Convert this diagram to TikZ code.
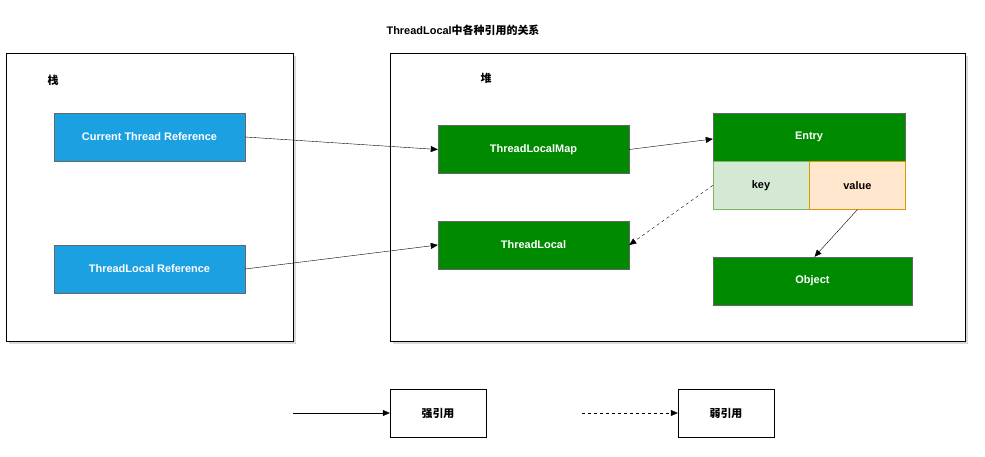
\documentclass[tikz,border=0pt]{standalone}
\usepackage{fontspec}
\setmainfont{Liberation Sans}
\newfontfamily\cjk{Noto Sans CJK SC}
\usetikzlibrary{positioning, calc, arrows.meta}
\definecolor{refblue}{HTML}{1BA1E2}
\definecolor{heapgreen}{HTML}{008A00}
\definecolor{keyfill}{HTML}{D5E8D4}
\definecolor{keyline}{HTML}{82B366}
\definecolor{valfill}{HTML}{FFE6CC}
\definecolor{valline}{HTML}{D79B00}
\tikzset{
	area/.style={draw=black, fill=white},
	ref/.style={rectangle, draw=black!60, fill=refblue, text=white, minimum width=191bp, minimum height=48bp, font=\fontsize{11}{13}\selectfont\bfseries, inner sep=0pt},
	obj/.style={rectangle, draw=black!60, fill=heapgreen, text=white, minimum width=191bp, minimum height=48bp, font=\fontsize{11}{13}\selectfont\bfseries, inner sep=0pt},
	cell/.style={rectangle, minimum width=96bp, minimum height=48bp, font=\fontsize{11}{13}\selectfont\bfseries, inner sep=0pt},
	legend/.style={rectangle, draw=black, fill=white, minimum width=96bp, minimum height=48bp, font=\fontsize{11}{13}\selectfont\bfseries\cjk, inner sep=0pt},
	strong/.style={-{Triangle[length=7bp,width=6bp]}, black},
	weak/.style={strong, dashed}
}
\begin{document}
\begin{tikzpicture}[x=1bp, y=-1bp]
	\useasboundingbox (0,0) rectangle (985,457);
	\fill[white] (0,0) rectangle (985,457);
	
	\node (title) at (463,30) {\fontsize{11}{13}\selectfont\bfseries ThreadLocal{\cjk 中各种引用的关系}};
	
	% stack and heap areas
	\fill[black!15] (9,56) rectangle (296,344);
	\draw[area] (6,53) rectangle (293,341);
	\node (stack) at (53,80) {\fontsize{11}{13}\selectfont\bfseries\cjk 栈};
	\fill[black!15] (393,56) rectangle (968,344);
	\draw[area] (390,53) rectangle (965,341);
	\node (heap) at (486,78) {\fontsize{11}{13}\selectfont\bfseries\cjk 堆};
	
	\node (curref) [ref] at (149.5,137) {Current Thread Reference};
	\node (tlref) [ref] at (149.5,269) {ThreadLocal Reference};
	\node (map) [obj] at (533.5,149.5) {ThreadLocalMap};
	\node (tl) [obj] at (533.5,245) {ThreadLocal};
	\node (entry) [obj, minimum width=192bp] at (809,137) {Entry};
	\node (key) [cell, draw=keyline, fill=keyfill, below right=0pt and 0pt of entry.south west, anchor=north west] {key};
	\node (value) [cell, draw=valline, fill=valfill, right=0pt of key] {value};
	\node (object) [obj, minimum width=199bp] at (812.5,281) {Object};
	
	\draw[strong] (curref.east) -- (map.west);
	\draw[strong] (tlref.east) -- (tl.west);
	\draw[strong] (map.east) -- ($(entry.west)+(0,2)$);
	\draw[weak] (key.west) -- (tl.east);
	\draw[strong] (value.south) -- ($(object.north)+(2,0)$);
	
	% legend
	\node (strongbox) [legend] at (438,413) {强引用};
	\node (weakbox) [legend] at (726,413) {弱引用};
	\coordinate (strongstart) at (293,413);
	\coordinate (weakstart) at (582,413);
	\draw[strong] (strongstart) -- (strongbox.west);
	\draw[weak] (weakstart) -- (weakbox.west);
\end{tikzpicture}
\end{document}
